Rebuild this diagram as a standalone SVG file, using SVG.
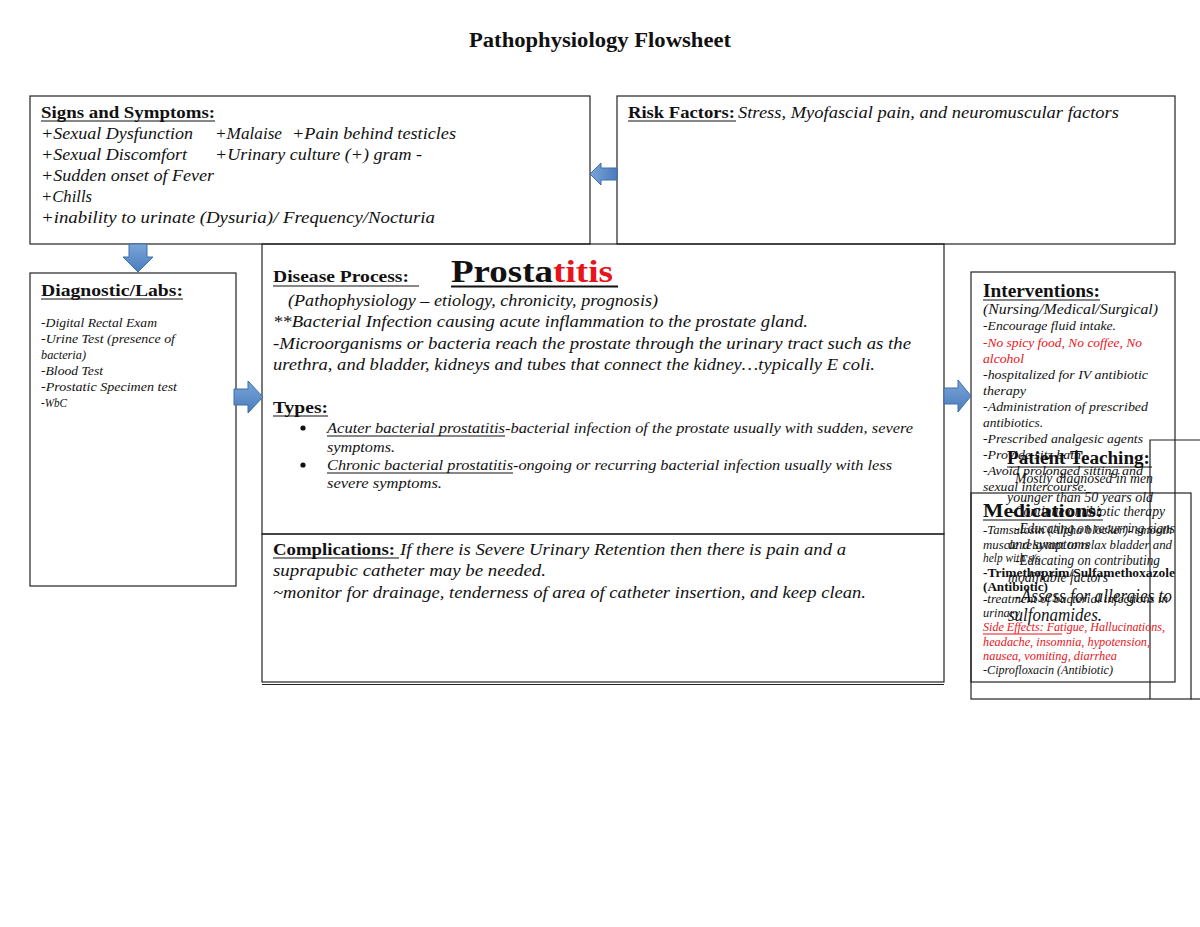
<svg xmlns="http://www.w3.org/2000/svg" width="1200" height="927" viewBox="0 0 1200 927">
<defs>
<linearGradient id="ag" x1="0" y1="0" x2="0" y2="1">
<stop offset="0" stop-color="#7aa5d8"/>
<stop offset="1" stop-color="#4a7cbc"/>
</linearGradient>
<linearGradient id="agh" x1="0" y1="0" x2="1" y2="0">
<stop offset="0" stop-color="#7aa5d8"/>
<stop offset="1" stop-color="#4a7cbc"/>
</linearGradient>
</defs>
<style>
text{font-family:"Liberation Serif","DejaVu Serif",serif;fill:#111}
.b{font-weight:bold}
.i{font-style:italic}
.r{fill:#e8141a}
.box{fill:none;stroke:#222;stroke-width:1.2}
.ul{stroke:#111;stroke-width:1.2}
.ulr{stroke:#e8141a;stroke-width:1.1}
.arr{stroke:#3f6fa8;stroke-width:1}
</style>
<rect width="1200" height="927" fill="#fff"/>

<text x="600" y="47" text-anchor="middle" class="b" font-size="20" textLength="262" lengthAdjust="spacingAndGlyphs">Pathophysiology Flowsheet</text>

<g id="signs">
<rect class="box" x="30" y="96" width="560" height="148"/>
<text x="41" y="118" class="b" font-size="17" textLength="174" lengthAdjust="spacingAndGlyphs">Signs and Symptoms:</text>
<line class="ul" x1="41" y1="121" x2="215" y2="121"/>
<g class="i" font-size="17">
<text x="41" y="139" class="i" textLength="152" lengthAdjust="spacingAndGlyphs">+Sexual Dysfunction</text>
<text x="215" y="139" class="i" textLength="67" lengthAdjust="spacingAndGlyphs">+Malaise</text>
<text x="292" y="139" class="i" textLength="164" lengthAdjust="spacingAndGlyphs">+Pain behind testicles</text>
<text x="41" y="160" class="i" textLength="146" lengthAdjust="spacingAndGlyphs">+Sexual Discomfort</text>
<text x="215" y="160" class="i" textLength="207" lengthAdjust="spacingAndGlyphs">+Urinary culture (+) gram -</text>
<text x="41" y="181" class="i" textLength="173" lengthAdjust="spacingAndGlyphs">+Sudden onset of Fever</text>
<text x="41" y="202" class="i" textLength="51" lengthAdjust="spacingAndGlyphs">+Chills</text>
<text x="41" y="223" class="i" textLength="394" lengthAdjust="spacingAndGlyphs">+inability to urinate (Dysuria)/ Frequency/Nocturia</text>
</g>
</g>

<g id="risk">
<rect class="box" x="617" y="96" width="558" height="148"/>
<text x="628" y="118" class="b" font-size="17" textLength="107" lengthAdjust="spacingAndGlyphs">Risk Factors:</text>
<line class="ul" x1="628" y1="121" x2="736" y2="121"/>
<text x="738" y="118" class="i" font-size="17" textLength="381" lengthAdjust="spacingAndGlyphs">Stress, Myofascial pain, and neuromuscular factors</text>
</g>

<g id="diagnostic">
<rect class="box" x="30" y="273" width="206" height="313"/>
<text x="41" y="296" class="b" font-size="17" textLength="142" lengthAdjust="spacingAndGlyphs">Diagnostic/Labs:</text>
<line class="ul" x1="41" y1="299" x2="183" y2="299"/>
<g font-size="13">
<text x="41" y="327" class="i" textLength="116" lengthAdjust="spacingAndGlyphs">-Digital Rectal Exam</text>
<text x="41" y="343" class="i" textLength="134" lengthAdjust="spacingAndGlyphs">-Urine Test (presence of</text>
<text x="41" y="359" class="i" textLength="45" lengthAdjust="spacingAndGlyphs">bacteria)</text>
<text x="41" y="375" class="i" textLength="62" lengthAdjust="spacingAndGlyphs">-Blood Test</text>
<text x="41" y="391" class="i" textLength="136" lengthAdjust="spacingAndGlyphs">-Prostatic Specimen test</text>
<text x="41" y="407" class="i" textLength="26" lengthAdjust="spacingAndGlyphs">-WbC</text>
</g>
</g>

<g id="disease">
<rect class="box" x="262" y="244" width="682" height="290"/>
<text x="273" y="282" class="b" font-size="17" textLength="136" lengthAdjust="spacingAndGlyphs">Disease Process:</text>
<line class="ul" x1="273" y1="286" x2="419" y2="286"/>
<text x="451" y="282" class="b" font-size="31" textLength="102" lengthAdjust="spacingAndGlyphs">Prosta</text>
<text x="553" y="282" class="b r" font-size="31" textLength="60" lengthAdjust="spacingAndGlyphs">titis</text>
<line x1="451" y1="286.5" x2="618" y2="286.5" stroke="#111" stroke-width="2"/>
<g font-size="17">
<text x="288" y="306" class="i" textLength="370" lengthAdjust="spacingAndGlyphs">(Pathophysiology – etiology, chronicity, prognosis)</text>
<text x="273" y="327" class="i" textLength="535" lengthAdjust="spacingAndGlyphs">**Bacterial Infection causing acute inflammation to the prostate gland.</text>
<text x="273" y="349" class="i" textLength="638" lengthAdjust="spacingAndGlyphs">-Microorganisms or bacteria reach the prostate through the urinary tract such as the</text>
<text x="273" y="370" class="i" textLength="602" lengthAdjust="spacingAndGlyphs">urethra, and bladder, kidneys and tubes that connect the kidney…typically E coli.</text>
</g>
<text x="273" y="413" class="b" font-size="17" textLength="55" lengthAdjust="spacingAndGlyphs">Types:</text>
<line class="ul" x1="273" y1="416" x2="328" y2="416"/>
<circle cx="303" cy="428" r="2.6" fill="#111"/>
<circle cx="303" cy="465" r="2.6" fill="#111"/>
<g font-size="15">
<text x="327" y="433" class="i" textLength="178" lengthAdjust="spacingAndGlyphs">Acuter bacterial prostatitis</text>
<line class="ul" x1="327" y1="436" x2="505" y2="436" stroke-width="1"/>
<text x="505" y="433" class="i" textLength="408" lengthAdjust="spacingAndGlyphs">-bacterial infection of the prostate usually with sudden, severe</text>
<text x="327" y="452" class="i" textLength="68" lengthAdjust="spacingAndGlyphs">symptoms.</text>
<text x="327" y="470" class="i" textLength="186" lengthAdjust="spacingAndGlyphs">Chronic bacterial prostatitis</text>
<line class="ul" x1="327" y1="473" x2="513" y2="473" stroke-width="1"/>
<text x="513" y="470" class="i" textLength="379" lengthAdjust="spacingAndGlyphs">-ongoing or recurring bacterial infection usually with less</text>
<text x="327" y="488" class="i" textLength="115" lengthAdjust="spacingAndGlyphs">severe symptoms.</text>
</g>
</g>

<g id="complications">
<rect class="box" x="262" y="534" width="682" height="148"/>
<line class="box" x1="262" y1="684.5" x2="944" y2="684.5"/>
<text x="273" y="555" class="b" font-size="17" textLength="122" lengthAdjust="spacingAndGlyphs">Complications:</text>
<line class="ul" x1="273" y1="558" x2="399" y2="558"/>
<g font-size="17">
<text x="400" y="555" class="i" textLength="446" lengthAdjust="spacingAndGlyphs">If there is Severe Urinary Retention then there is pain and a</text>
<text x="273" y="576" class="i" textLength="273" lengthAdjust="spacingAndGlyphs">suprapubic catheter may be needed.</text>
<text x="273" y="598" class="i" textLength="593" lengthAdjust="spacingAndGlyphs">~monitor for drainage, tenderness of area of catheter insertion, and keep clean.</text>
</g>
</g>

<g id="interventions">
<rect class="box" x="971" y="272" width="204" height="410"/>
<text x="983" y="297" class="b" font-size="18" textLength="117" lengthAdjust="spacingAndGlyphs">Interventions:</text>
<line class="ul" x1="983" y1="300" x2="1100" y2="300"/>
<text x="983" y="314" class="i" font-size="14" textLength="175" lengthAdjust="spacingAndGlyphs">(Nursing/Medical/Surgical)</text>
<g font-size="13">
<text x="983" y="330" class="i" textLength="133" lengthAdjust="spacingAndGlyphs">-Encourage fluid intake.</text>
<text x="983" y="347" class="i r" textLength="159" lengthAdjust="spacingAndGlyphs">-No spicy food, No coffee, No</text>
<text x="983" y="363" class="i r" textLength="41" lengthAdjust="spacingAndGlyphs">alcohol</text>
<text x="983" y="379" class="i" textLength="165" lengthAdjust="spacingAndGlyphs">-hospitalized for IV antibiotic</text>
<text x="983" y="395" class="i" textLength="43" lengthAdjust="spacingAndGlyphs">therapy</text>
<text x="983" y="411" class="i" textLength="165" lengthAdjust="spacingAndGlyphs">-Administration of prescribed</text>
<text x="983" y="427" class="i" textLength="60" lengthAdjust="spacingAndGlyphs">antibiotics.</text>
<text x="983" y="443" class="i" textLength="160" lengthAdjust="spacingAndGlyphs">-Prescribed analgesic agents</text>
<text x="983" y="459" class="i" textLength="98" lengthAdjust="spacingAndGlyphs">-Provide sitz bath</text>
<text x="983" y="475" class="i" textLength="160" lengthAdjust="spacingAndGlyphs">-Avoid prolonged sitting and</text>
<text x="983" y="491" class="i" textLength="104" lengthAdjust="spacingAndGlyphs">sexual intercourse.</text>
</g>
</g>

<g id="teaching">
<polyline class="box" points="1201,440 1150,440 1150,699"/>
<text x="1007" y="464" class="b" font-size="18" textLength="143" lengthAdjust="spacingAndGlyphs">Patient Teaching:</text>
<line class="ul" x1="1007" y1="467" x2="1152" y2="467"/>
<g font-size="15">
<text x="1015" y="483" class="i" textLength="138" lengthAdjust="spacingAndGlyphs">Mostly diagnosed in men</text>
<text x="1007" y="502" class="i" textLength="146" lengthAdjust="spacingAndGlyphs">younger than 50 years old</text>
<text x="1010" y="516" class="i" textLength="155" lengthAdjust="spacingAndGlyphs">-Continue antibiotic therapy</text>
<text x="1015" y="533" class="i" textLength="160" lengthAdjust="spacingAndGlyphs">-Educating on recurring signs</text>
<text x="1008" y="549" class="i" textLength="82" lengthAdjust="spacingAndGlyphs">and symptoms</text>
<text x="1015" y="565" class="i" textLength="145" lengthAdjust="spacingAndGlyphs">-Educating on contributing</text>
<text x="1008" y="582" class="i" textLength="100" lengthAdjust="spacingAndGlyphs">modifiable factors</text>
</g>
<g font-size="19">
<text x="1015" y="602" class="i" textLength="157" lengthAdjust="spacingAndGlyphs">-Assess for allergies to</text>
<text x="1008" y="621" class="i" textLength="94" lengthAdjust="spacingAndGlyphs">sulfonamides.</text>
</g>
</g>

<g id="medications">
<rect class="box" x="971" y="493" width="220" height="206"/>
<line class="box" x1="1191" y1="699" x2="1201" y2="699"/>
<text x="983" y="517" class="b" font-size="18" textLength="120" lengthAdjust="spacingAndGlyphs">Medications:</text>
<line class="ul" x1="983" y1="520" x2="1103" y2="520"/>
<g font-size="11.5">
<text x="983" y="534" class="i" textLength="189" lengthAdjust="spacingAndGlyphs">-Tamsulosin (Alpha blocker)- smooth</text>
<text x="983" y="549" class="i" textLength="189" lengthAdjust="spacingAndGlyphs">muscle relaxant to relax bladder and</text>
<text x="983" y="562" class="i" textLength="57" lengthAdjust="spacingAndGlyphs">help with s/s</text>
</g>
<text x="983" y="577" class="b" font-size="13" textLength="192" lengthAdjust="spacingAndGlyphs">-Trimethoprim/Sulfamethoxazole</text>
<text x="983" y="591" class="b" font-size="13" textLength="65" lengthAdjust="spacingAndGlyphs">(Antibiotic)</text>
<g font-size="11.5">
<text x="983" y="603" class="i" textLength="185" lengthAdjust="spacingAndGlyphs">-treatment of bacterial infections in</text>
<text x="983" y="617" class="i" textLength="37" lengthAdjust="spacingAndGlyphs">urinary</text>
</g>
<g font-size="12.5">
<text x="983" y="631" class="i r" textLength="182" lengthAdjust="spacingAndGlyphs">Side Effects:  Fatigue, Hallucinations,</text>
<line class="ulr" x1="983" y1="634" x2="1062" y2="634"/>
<text x="983" y="646" class="i r" textLength="167" lengthAdjust="spacingAndGlyphs">headache, insomnia, hypotension,</text>
<text x="983" y="660" class="i r" textLength="134" lengthAdjust="spacingAndGlyphs">nausea, vomiting, diarrhea</text>
<text x="983" y="674" class="i" textLength="130" lengthAdjust="spacingAndGlyphs">-Ciprofloxacin (Antibiotic)</text>
</g>
</g>

<g id="connectors">
<path class="arr" fill="url(#agh)" d="M590,174 L601,163 L601,168 L617,168 L617,180 L601,180 L601,185 Z"/>
<path class="arr" fill="url(#ag)" d="M129,244 L147,244 L147,257 L153,257 L138,272 L123,257 L129,257 Z"/>
<path class="arr" fill="url(#ag)" d="M234,389 L248,389 L248,381 L263,397 L248,413 L248,405 L234,405 Z"/>
<path class="arr" fill="url(#ag)" d="M944,388 L958,388 L958,380 L971,396 L958,412 L958,404 L944,404 Z"/>
</g>
</svg>
